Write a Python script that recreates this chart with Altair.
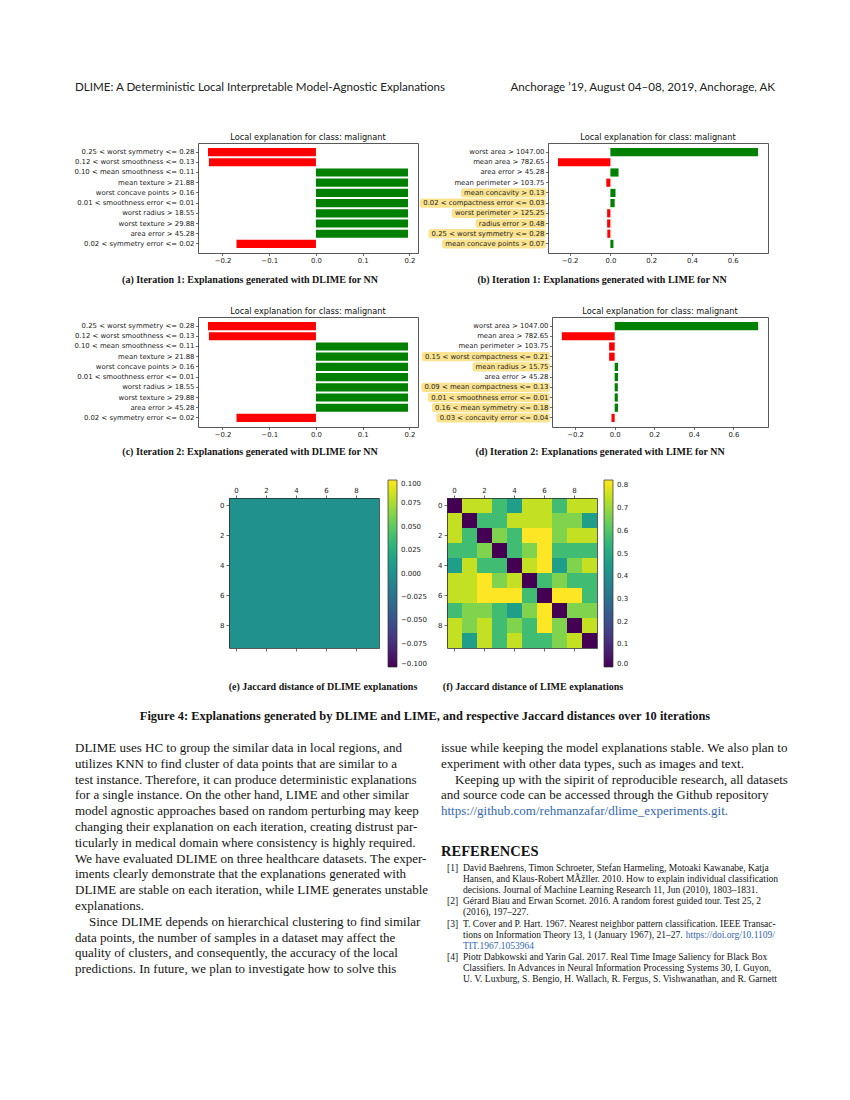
import altair as alt
import pandas as pd

# ---------------- text content ----------------
header_left = "DLIME: A Deterministic Local Interpretable Model-Agnostic Explanations"
header_right = "Anchorage ’19, August 04–08, 2019, Anchorage, AK"
panel_title = "Local explanation for class: malignant"
caption_a = "(a) Iteration 1: Explanations generated with DLIME for NN"
caption_b = "(b) Iteration 1: Explanations generated with LIME for NN"
caption_c = "(c) Iteration 2: Explanations generated with DLIME for NN"
caption_d = "(d) Iteration 2: Explanations generated with LIME for NN"
caption_e = "(e) Jaccard distance of DLIME explanations"
caption_f = "(f) Jaccard distance of LIME explanations"
figure_caption = ("Figure 4: Explanations generated by DLIME and LIME, and respective "
                  "Jaccard distances over 10 iterations")

left_lines = [
    "DLIME uses HC to group the similar data in local regions, and",
    "utilizes KNN to find cluster of data points that are similar to a",
    "test instance. Therefore, it can produce deterministic explanations",
    "for a single instance. On the other hand, LIME and other similar",
    "model agnostic approaches based on random perturbing may keep",
    "changing their explanation on each iteration, creating distrust par-",
    "ticularly in medical domain where consistency is highly required.",
    "We have evaluated DLIME on three healthcare datasets. The exper-",
    "iments clearly demonstrate that the explanations generated with",
    "DLIME are stable on each iteration, while LIME generates unstable",
    "explanations.",
    "Since DLIME depends on hierarchical clustering to find similar",
    "data points, the number of samples in a dataset may affect the",
    "quality of clusters, and consequently, the accuracy of the local",
    "predictions. In future, we plan to investigate how to solve this",
]
left_indented = [11]

right_lines = [
    "issue while keeping the model explanations stable. We also plan to",
    "experiment with other data types, such as images and text.",
    "Keeping up with the sipirit of reproducible research, all datasets",
    "and source code can be accessed through the Github repository",
]
right_indented = [2]
link_line = "https://github.com/rehmanzafar/dlime_experiments.git."

refs_heading = "REFERENCES"
ref_markers = ["[1]", "[2]", "[3]", "[4]"]
ref_marker_rows = [0, 3, 5, 8]
ref_lines = [
    "David Baehrens, Timon Schroeter, Stefan Harmeling, Motoaki Kawanabe, Katja",
    "Hansen, and Klaus-Robert MÃžller. 2010. How to explain individual classification",
    "decisions.  Journal of Machine Learning Research 11, Jun (2010), 1803–1831.",
    "Gérard Biau and Erwan Scornet. 2016.  A random forest guided tour.  Test 25, 2",
    "(2016), 197–227.",
    "T. Cover and P. Hart. 1967.  Nearest neighbor pattern classification.  IEEE Transac-",
    "tions on Information Theory 13, 1 (January 1967), 21–27.",
    "Piotr Dabkowski and Yarin Gal. 2017.  Real Time Image Saliency for Black Box",
    "Classifiers.  In Advances in Neural Information Processing Systems 30, I. Guyon,",
    "U. V. Luxburg, S. Bengio, H. Wallach, R. Fergus, S. Vishwanathan, and R. Garnett",
]
ref_line_rows = [0, 1, 2, 3, 4, 5, 6, 8, 9, 10]
ref_link_end = "https://doi.org/10.1109/"
ref_link_end_row = 6
ref_link_line = "TIT.1967.1053964"
ref_link_line_row = 7

# ---------------- chart data ----------------
dlime_labels = [
    "0.25 < worst symmetry <= 0.28",
    "0.12 < worst smoothness <= 0.13",
    "0.10 < mean smoothness <= 0.11",
    "mean texture > 21.88",
    "worst concave points > 0.16",
    "0.01 < smoothness error <= 0.01",
    "worst radius > 18.55",
    "worst texture > 29.88",
    "area error > 45.28",
    "0.02 < symmetry error <= 0.02",
]
dlime_values = [-0.231, -0.229, 0.197, 0.197, 0.197, 0.197, 0.197, 0.197, 0.197, -0.170]
dlime_highlight = [False] * 10

lime1_labels = [
    "worst area > 1047.00",
    "mean area > 782.65",
    "area error > 45.28",
    "mean perimeter > 103.75",
    "mean concavity > 0.13",
    "0.02 < compactness error <= 0.03",
    "worst perimeter > 125.25",
    "radius error > 0.48",
    "0.25 < worst symmetry <= 0.28",
    "mean concave points > 0.07",
]
lime1_values = [0.724, -0.257, 0.040, -0.020, 0.025, 0.021, -0.016, -0.016, -0.015, 0.015]
lime1_highlight = [False, False, False, False, True, True, True, True, True, True]

lime2_labels = [
    "worst area > 1047.00",
    "mean area > 782.65",
    "mean perimeter > 103.75",
    "0.15 < worst compactness <= 0.21",
    "mean radius > 15.75",
    "area error > 45.28",
    "0.09 < mean compactness <= 0.13",
    "0.01 < smoothness error <= 0.01",
    "0.16 < mean symmetry <= 0.18",
    "0.03 < concavity error <= 0.04",
]
lime2_values = [0.725, -0.267, -0.028, -0.028, 0.017, 0.017, 0.016, 0.016, 0.017, -0.016]
lime2_highlight = [False, False, False, True, True, False, True, True, True, True]

dlime_ticks = [-0.2, -0.1, 0.0, 0.1, 0.2]
lime_ticks = [-0.2, 0.0, 0.2, 0.4, 0.6]

dlime_jaccard = [
    [0, 0, 0, 0, 0, 0, 0, 0, 0, 0],
    [0, 0, 0, 0, 0, 0, 0, 0, 0, 0],
    [0, 0, 0, 0, 0, 0, 0, 0, 0, 0],
    [0, 0, 0, 0, 0, 0, 0, 0, 0, 0],
    [0, 0, 0, 0, 0, 0, 0, 0, 0, 0],
    [0, 0, 0, 0, 0, 0, 0, 0, 0, 0],
    [0, 0, 0, 0, 0, 0, 0, 0, 0, 0],
    [0, 0, 0, 0, 0, 0, 0, 0, 0, 0],
    [0, 0, 0, 0, 0, 0, 0, 0, 0, 0],
    [0, 0, 0, 0, 0, 0, 0, 0, 0, 0],
]
lime_jaccard = [
    [0.000, 0.750, 0.750, 0.571, 0.462, 0.750, 0.750, 0.571, 0.750, 0.750],
    [0.750, 0.000, 0.571, 0.571, 0.750, 0.750, 0.750, 0.667, 0.667, 0.462],
    [0.750, 0.571, 0.000, 0.667, 0.571, 0.824, 0.824, 0.667, 0.750, 0.750],
    [0.571, 0.571, 0.667, 0.000, 0.571, 0.667, 0.824, 0.571, 0.571, 0.571],
    [0.462, 0.750, 0.571, 0.571, 0.000, 0.750, 0.824, 0.462, 0.667, 0.750],
    [0.750, 0.750, 0.824, 0.667, 0.750, 0.000, 0.571, 0.667, 0.571, 0.571],
    [0.750, 0.750, 0.824, 0.824, 0.824, 0.571, 0.000, 0.824, 0.824, 0.571],
    [0.571, 0.667, 0.667, 0.571, 0.462, 0.667, 0.824, 0.000, 0.667, 0.667],
    [0.750, 0.667, 0.750, 0.571, 0.667, 0.571, 0.824, 0.667, 0.000, 0.750],
    [0.750, 0.462, 0.750, 0.571, 0.750, 0.571, 0.571, 0.667, 0.750, 0.000],
]
dlime_cbar_domain = [-0.1, 0.1]
dlime_cbar_ticks = [-0.1, -0.075, -0.05, -0.025, 0.0, 0.025, 0.05, 0.075, 0.1]
lime_cbar_domain = [0.0, 0.824]
lime_cbar_ticks = [0.0, 0.1, 0.2, 0.3, 0.4, 0.5, 0.6, 0.7, 0.8]
heat_ticks = [0, 2, 4, 6, 8]

# ---------------- styling ----------------
W, H = 834, 1076
TXT = "#141414"
LINK = "#3567ad"
HL = "#fbe38f"
SANS = "DejaVu Sans"
SERIF = "Liberation Serif"
HEAD = "Lato"
SPINE = "#2e2e2e"
LBL = 6.9
TICK = 2.5
LPAD = 1.5

# DejaVu Sans advance widths (units of 1/2048 em) for highlight boxes
DJV = {" ": 651, ".": 651, "<": 1716, ">": 1716, "=": 1716,
       "a": 1255, "b": 1300, "c": 1126, "d": 1300, "e": 1260, "f": 721, "g": 1300,
       "h": 1298, "i": 569, "k": 1186, "l": 569, "m": 1995, "n": 1298, "o": 1253,
       "p": 1300, "r": 842, "s": 1067, "t": 803, "u": 1298, "v": 1212, "w": 1675,
       "x": 1212, "y": 1212, "z": 1075}


def text_width(s, size):
    return sum(DJV.get(ch, 1303 if ch.isdigit() else 1200) for ch in s) / 2048.0 * size


def label(s, x, y, size, font=SERIF, weight="normal", align="left", color=TXT):
    return alt.Chart(pd.DataFrame({"t": [s]})).mark_text(
        align=align, baseline="middle", font=font, fontSize=size,
        fontWeight=weight, color=color
    ).encode(x=alt.value(x), y=alt.value(y), text="t:N")


def block(lines, rows, n, x, y0, step, size, font=SERIF, weight="normal",
          align="left", color=TXT):
    df = pd.DataFrame({"i": rows, "t": lines})
    ysc = alt.Scale(domain=[0, n - 1], range=[y0, y0 + step * (n - 1)])
    return alt.Chart(df).mark_text(
        align=align, baseline="middle", font=font, fontSize=size,
        fontWeight=weight, color=color
    ).encode(x=alt.value(x), y=alt.Y("i:Q", scale=ysc, axis=None), text="t:N")


def off_left(x0):
    return -x0


def off_right(x1):
    return x1 - W


def off_top(y0):
    return -y0


def off_bottom(y1):
    return y1 - H


def bar_panel(labels, values, highlight, ticks, x0, x1, y0, y1):
    lo, hi = min(values), max(values)
    m = (hi - lo) * 0.05
    xsc = alt.Scale(domain=[lo - m, hi + m], range=[x0, x1], nice=False, zero=False)
    ysc = alt.Scale(domain=labels, range=[y0, y1], paddingInner=0.2, paddingOuter=0.49)
    df = pd.DataFrame({
        "label": labels, "value": values, "hl": highlight,
        "w": [text_width(s, LBL) + 2.5 for s in labels],
    })
    layers = []
    lab_right = x0 - TICK - LPAD
    if any(highlight):
        hx = alt.Scale(domain=[0, 400], range=[lab_right, lab_right - 400])
        hy = alt.Scale(domain=labels, range=[y0, y1], paddingInner=0.1, paddingOuter=0.44)
        layers.append(
            alt.Chart(df).transform_filter("datum.hl").mark_rect(
                color=HL, cornerRadius=2.5
            ).encode(
                x=alt.X("w:Q", scale=hx, axis=None),
                x2=alt.value(lab_right + 2),
                y=alt.Y("label:N", scale=hy, axis=None),
            )
        )
    layers.append(
        alt.Chart(df).mark_bar().encode(
            x=alt.X("value:Q", scale=xsc, axis=alt.Axis(
                orient="bottom", offset=off_bottom(y1), values=ticks, format=".1f",
                title=None, grid=False, labelFont=SANS, labelFontSize=LBL,
                labelColor="#222", tickColor=SPINE, tickSize=TICK, tickWidth=0.7,
                labelPadding=2, domainColor=SPINE, domainWidth=0.8)),
            x2=alt.datum(0),
            y=alt.Y("label:N", scale=ysc, axis=alt.Axis(
                orient="left", offset=off_left(x0), title=None, grid=False, zindex=1,
                labelFont=SANS, labelFontSize=LBL, labelColor="#222", labelLimit=300,
                tickColor=SPINE, tickSize=TICK, tickWidth=0.7, labelPadding=LPAD,
                domainColor=SPINE, domainWidth=0.8)),
            color=alt.condition("datum.value > 0", alt.value("#008000"), alt.value("#ff0000")),
        )
    )
    layers.append(
        alt.Chart(df).mark_bar(opacity=0).encode(
            x=alt.X("value:Q", scale=xsc, axis=alt.Axis(
                orient="top", offset=off_top(y0), title=None, grid=False, labels=False,
                ticks=False, domainColor=SPINE, domainWidth=0.8)),
            y=alt.Y("label:N", scale=ysc, axis=alt.Axis(
                orient="right", offset=off_right(x1), title=None, grid=False,
                labels=False, ticks=False, domainColor=SPINE, domainWidth=0.8)),
        )
    )
    layers.append(label(panel_title, (x0 + x1) / 2, y0 - 5, 8.2, font=SANS,
                        align="center", color="#111"))
    return layers


def heat_panel(matrix, cdom, cticks, cfmt, x0, x1, y0, y1, legx):
    df = pd.DataFrame([(i, j, matrix[i][j]) for i in range(10) for j in range(10)],
                      columns=["r", "c", "v"])
    idx = list(range(10))
    xsc = alt.Scale(domain=idx, range=[x0, x1], paddingInner=0, paddingOuter=0)
    ysc = alt.Scale(domain=idx, range=[y0, y1], paddingInner=0, paddingOuter=0)
    csc = alt.Scale(scheme="viridis", domain=cdom)
    ax = dict(title=None, grid=False, labelFont=SANS, labelFontSize=7, labelColor="#222",
              tickColor=SPINE, tickSize=3, tickWidth=0.7, domainColor=SPINE,
              domainWidth=0.8, labelAngle=0)
    cells = alt.Chart(df).mark_rect(strokeWidth=0).encode(
        x=alt.X("c:O", scale=xsc, axis=alt.Axis(orient="top", offset=off_top(y0),
                                                 values=heat_ticks, labelPadding=2, **ax)),
        y=alt.Y("r:O", scale=ysc, axis=alt.Axis(orient="left", offset=off_left(x0),
                                                 values=heat_ticks, labelPadding=2, **ax)),
        color=alt.Color("v:Q", scale=csc, legend=alt.Legend(
            orient="none", legendX=legx, legendY=y0 - 18, direction="vertical",
            gradientLength=187, gradientThickness=9, title=None, values=cticks,
            format=cfmt, labelFont=SANS, labelFontSize=7, labelColor="#222",
            gradientStrokeColor=SPINE, gradientStrokeWidth=0.7,
            labelOverlap=False, labelOffset=4)),
    )
    frame = alt.Chart(df).mark_rect(opacity=0).encode(
        x=alt.X("c:O", scale=xsc, axis=alt.Axis(orient="bottom", offset=off_bottom(y1),
                                                 values=heat_ticks, labels=False, **ax)),
        y=alt.Y("r:O", scale=ysc, axis=alt.Axis(orient="right", offset=off_right(x1),
                                                 ticks=False, labels=False, **ax)),
    )
    return [cells, frame]


layers = []

# running header
layers.append(label(header_left, 67, 80, 11.6, font=HEAD, color="#222"))
layers.append(label(header_right, 767, 80, 11.6, font=HEAD, align="right", color="#222"))

# bar panels
layers += bar_panel(dlime_labels, dlime_values, dlime_highlight, dlime_ticks, 190, 410, 135, 245)
layers += bar_panel(lime1_labels, lime1_values, lime1_highlight, lime_ticks, 540, 760, 135, 245)
layers += bar_panel(dlime_labels, dlime_values, dlime_highlight, dlime_ticks, 190, 410, 309, 419)
layers += bar_panel(lime2_labels, lime2_values, lime2_highlight, lime_ticks, 544, 760, 309, 419)

layers.append(label(caption_a, 242, 271.5, 10, weight="bold", align="center"))
layers.append(label(caption_b, 594, 272, 10, weight="bold", align="center"))
layers.append(label(caption_c, 242, 444, 10, weight="bold", align="center"))
layers.append(label(caption_d, 592, 443.5, 10, weight="bold", align="center"))

# heatmaps
layers += heat_panel(dlime_jaccard, dlime_cbar_domain, dlime_cbar_ticks, ".3f",
                     221, 371, 490, 640, 380)
layers += heat_panel(lime_jaccard, lime_cbar_domain, lime_cbar_ticks, ".1f",
                     439, 589, 490, 640, 596)
layers.append(label(caption_e, 315, 679, 10, weight="bold", align="center"))
layers.append(label(caption_f, 525, 678.5, 10, weight="bold", align="center"))
layers.append(label(figure_caption, 417, 708, 12.4, weight="bold", align="center"))

# body text
STEP = 15.8
BODY = 13
nL = len(left_lines)
plain_rows = [i for i in range(nL) if i not in left_indented]
layers.append(block([left_lines[i] for i in plain_rows], plain_rows, nL, 67, 740, STEP, BODY))
layers.append(block([left_lines[i] for i in left_indented], left_indented, nL, 81, 740, STEP, BODY))
nR = len(right_lines) + 1
plain_rows = [i for i in range(len(right_lines)) if i not in right_indented]
layers.append(block([right_lines[i] for i in plain_rows], plain_rows, nR, 433, 740, STEP, BODY))
layers.append(block([right_lines[i] for i in right_indented], right_indented, nR, 447, 740, STEP, BODY))
layers.append(block([link_line], [nR - 1], nR, 433, 740, STEP, BODY, color=LINK))

# references
layers.append(label(refs_heading, 433, 844, 14.5, weight="bold"))
RSTEP = 11.1
RS = 9.5
layers.append(block(ref_markers, ref_marker_rows, 11, 439, 860, RSTEP, RS))
layers.append(block(ref_lines, ref_line_rows, 11, 455, 860, RSTEP, RS))
layers.append(block([ref_link_end], [ref_link_end_row], 11, 767, 860, RSTEP, RS,
                    align="right", color=LINK))
layers.append(block([ref_link_line], [ref_link_line_row], 11, 455, 860, RSTEP, RS, color=LINK))

chart = alt.layer(*layers).resolve_scale(
    x="independent", y="independent", color="independent"
).properties(
    width=W, height=H, padding=0, background="white"
).configure_view(stroke="transparent")

chart.save("out.html", embed_options={"renderer": "svg", "actions": False})
